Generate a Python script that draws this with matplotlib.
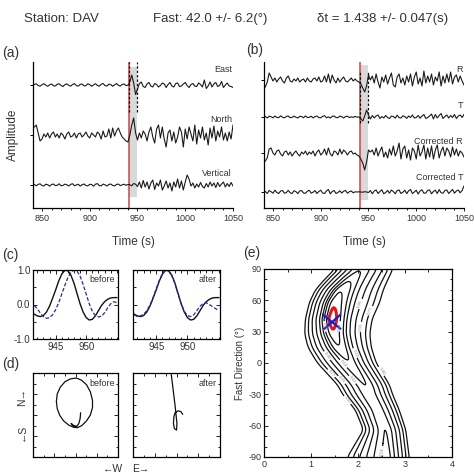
import numpy as np
import matplotlib
matplotlib.use('Agg')
import matplotlib.pyplot as plt
from matplotlib.ticker import MultipleLocator, FixedLocator, NullFormatter

plt.rcParams['font.family'] = ['Liberation Sans', 'DejaVu Sans']
plt.rcParams['axes.unicode_minus'] = False

# ---------------- data ----------------
station = "DAV"
fast_text = "Fast: 42.0 +/- 6.2(\u00b0)"
dt_text = "\u03b4t = 1.438 +/- 0.047(s)"

t_start, t_step = 842, 2
east = [0.5, 1.2, -0.5, -1.2, 0.3, 1.3, -0.2, -1.3, 0.2, 1.0,
        -0.8, -1.0, 0.8, 1.2, -0.5, -1.5, 0.4, 1.1, -0.3, -1.2,
        0.5, 1.4, -0.6, -1.1, 0.6, 1.0, -0.9, -0.7, 1.2, 0.4,
        -1.3, 0.1, 1.3, -0.4, -1.2, 0.8, 1.5, -0.6, -1.0, 0.9,
        0.4, -1.3, 0.2, 1.4, -0.3, -1.1, 0.6, 1.0, -0.6, -0.2,
        3.0, 10.0, 2.0, -9.5, -4.0,
        1.5, 3.0, -1.5, -2.5, 1.0, 2.5, -1.0, -2.0, 1.5, 0.5,
        -2.0, -0.5, 2.0, 1.0, -2.5, 0.5, 2.5, -1.0, -2.0, 1.5,
        2.0, -1.5, -1.0, 1.0, 2.5, -0.5, -2.5, 0.5, 1.5, -1.0,
        -1.5, 2.0, 0.5, -2.0, 5.0, -3.5, -1.0, 3.0, -2.0, 1.0,
        2.5, -1.5, -0.5, 3.5, -2.5, 0.0, 2.0, -1.0, -1.5, -2.5]
north = [8, 10, 2, -6, -4, 1, -2, 2, -3, 1,
         3, -2, 1, -3, 2, 0, -4, 1, 3, -2,
         -1, 2, -3, 1, 2, -2, 0, 3, -1, -3,
         2, 0, -2, 3, 1, -4, 4, -2, -1, 6,
         -3, 7, -1, 4, 7, 2, -2, -4, -6, -7,
         0, 10, 17, 2, -5,
         2, -3, 4, 1, -6, 3, 8, -2, -8, 6,
         10, -3, 8, -4, -12, 2, 5, -6, 3, -8,
         -2, 8, 3, -12, 6, -4, 8, 1, -6, 10,
         -9, 5, -3, 8, -5, 2, -10, 7, -3, 9,
         -6, 4, -2, 8, -5, 2, -6, 3, -4, 10]
vertical = [0.5, -0.8, 0.6, 1.2, -0.5, -1.0, 0.8, 0.3, -1.2, 0.4,
            1.0, -0.6, -0.3, 1.2, -0.8, -0.4, 0.9, 0.2, -1.0, 0.6,
            1.3, -0.7, 0.0, 0.8, -1.1, 0.3, 1.0, -0.5, -0.9, 0.7,
            0.5, -1.2, 0.8, 1.4, -0.6, -0.8, 0.9, 0.2, -1.0, 0.5,
            1.0, -0.4, -1.0, 0.6, 0.9, -0.7, 0.2, 0.8, -0.3, 0.5,
            0.3, -0.8, 1.5, 0.8, -1.5,
            3.0, -3.0, 4.5, -2.0, 3.0, -4.0, 2.0, 5.0, -4.5, 2.0,
            -1.0, 5.0, -5.0, -1.0, 4.0, -3.0, 2.0, -6.0, 3.0, -2.0,
            6.0, -3.0, 4.0, -5.0, 3.0, 10.0, 6.0, -1.0, 2.0, -3.0,
            1.0, -2.0, 2.5, -1.5, -3.0, 1.5, -2.0, 3.0, -1.0, 2.0,
            -2.5, 2.5, -1.5, 1.0, 3.0, -2.0, 1.5, -1.5, 2.5, -1.0]
radial = [-7, -2, 7, 3, -1, 2, -2, 1, 3, -1,
          -3, 2, 4, -1, -2, 1, -1, 2, -2, 0,
          1, -2, 2, -1, -2, 1, 2, -1, 3, -2,
          -1, 4, -2, 6, -3, 5, 0, -3, 2, -2,
          1, 3, -1, -2, 0, 2, -1, 1, -1, -2,
          -4, -8, -12, -6, 5,
          0, 4, -3, 6, -2, -8, 3, -2, 5, -4,
          2, 7, -5, -7, 3, 6, -3, 2, -5, 4,
          -2, 6, -6, 3, 8, -4, 2, -6, 9, -3,
          4, -2, 6, -5, 3, -1, 8, -6, 4, -3,
          6, -2, 8, -4, 3, 5, -2, 4, -1, -5]
transverse = [0.5, -1.0, 0.8, 0.3, -0.8, 1.0, -0.5, -0.6, 1.2, -0.3,
              -0.9, 0.6, 1.0, -0.7, -0.4, 0.9, -0.2, -1.0, 0.7, 0.4,
              -0.8, 1.1, -0.5, -0.3, 0.8, -0.9, 0.4, 1.0, -0.6, -0.8,
              0.7, 1.3, -0.8, 0.2, -1.1, 0.6, 1.0, -0.5, -0.7, 0.9,
              0.3, -1.0, 0.5, 0.8, -0.6, 0.2, -0.4, 0.6, -0.2, 0.1,
              -2.0, -4.0, 1.0, 7.0, 2.0,
              -2.0, 1.5, -1.0, 1.0, 2.0, -1.5, 0.5, -1.0, 1.5, -0.5,
              -1.5, 1.0, 0.5, -1.2, 1.8, -0.6, -1.0, 1.2, 0.4, -1.4,
              1.0, -0.5, 2.0, -1.0, -0.5, 1.5, -1.2, 0.8, 2.5, -1.5,
              -0.5, 1.0, 3.0, -2.0, 2.5, -1.0, 1.5, 3.5, -1.5, 0.5,
              2.0, -1.0, 1.5, -0.5, 2.5, -1.5, 1.0, 2.0, -0.5, 2.5]
corr_radial = [-8, -5, 4, 5, 0, -2, 2, 3, -1, -3,
               1, 2, -2, 1, -3, 0, 2, -1, -3, 1,
               -1, 2, -2, 1, -1, 2, -3, 1, 3, -2,
               0, 4, -2, 5, -1, -3, 2, 1, -2, 4,
               -1, 3, 1, -2, 1, 2, -1, 0, -2, -3,
               -6, -10, -17, -9, 3,
               1, 3, -2, 5, -3, 2, 6, -4, 1, -5,
               4, -2, 7, -3, 2, 10, -6, 4, 7, -5,
               3, -7, 5, 2, -6, 8, -3, 1, 8, -6,
               5, -4, 7, -6, 3, 8, -5, 2, 6, -3,
               5, 2, -4, 6, -2, 4, -3, 2, 0, -4]
corr_transverse = [0.5, -1.5, 1.5, 0.3, -1.2, 1.8, -0.5, -1.5, 1.0, 1.5,
                   -1.2, -0.6, 1.6, -0.8, -1.5, 1.2, 0.4, -1.6, 1.0, 1.5,
                   -1.0, -1.3, 0.8, 1.7, -1.2, -0.2, 1.4, -1.5, 0.5, 1.8,
                   -1.0, -1.5, 1.2, 2.5, -1.8, 0.5, 1.5, -1.5, -0.5, 1.2,
                   -1.0, 0.8, 1.5, -1.2, 0.3, 1.0, -0.8, 0.2, 0.0, 0.2,
                   0.0, -0.2, 0.3, 0.0, -0.5,
                   1.5, -1.8, 1.0, 2.0, -1.5, 0.5, 2.2, -1.8, -0.5, 1.6,
                   -1.2, 2.0, 0.5, -1.8, 1.5, 2.0, -1.5, -0.3, 1.8, -1.6,
                   1.2, 2.5, -1.5, 0.0, 1.8, -2.0, 1.0, 2.2, -1.2, -1.0,
                   1.6, 2.0, -1.8, 0.6, 1.8, -1.5, 2.4, -0.8, -1.2, 1.5,
                   2.0, -1.5, 0.5, 2.6, -1.2, 1.0, 2.0, -0.8, 1.5, 6.0]

labels_a = ["East", "North", "Vertical"]
labels_b = ["R", "T", "Corrected R", "Corrected T"]
s_onset, window_end = 941.3, 950.0

# panel c : normalized waveforms in the window
tc_start, tc_step = 941.5, 0.5
fast_wave = [-0.28, -0.33, -0.35, -0.32, -0.22, -0.05, 0.18, 0.42, 0.68, 0.88,
             0.99, 0.98, 0.85, 0.62, 0.32, 0.02, -0.22, -0.38, -0.45, -0.43,
             -0.33, -0.18, -0.03, 0.08, 0.15, 0.19, 0.20, 0.20]
slow_before = [-0.03, -0.12, -0.25, -0.35, -0.40, -0.38, -0.30, -0.15, 0.05, 0.30,
               0.55, 0.78, 0.93, 1.00, 0.97, 0.82, 0.58, 0.30, 0.02, -0.20,
               -0.32, -0.36, -0.34, -0.24, -0.10, 0.02, 0.08, 0.06]
slow_after = [-0.30, -0.35, -0.33, -0.28, -0.18, -0.02, 0.20, 0.45, 0.70, 0.90,
              1.00, 0.97, 0.83, 0.60, 0.30, 0.02, -0.20, -0.32, -0.35, -0.30,
              -0.18, -0.05, 0.03, 0.05, 0.00, -0.06, -0.12, -0.17]

# panel d : particle motion
pm_before_e = [0.12, 0.11, 0.08, 0.03, -0.08, -0.10, -0.02, 0.05, 0.15, 0.26, 0.35, 0.40, 0.40,
               0.35, 0.26, 0.14, 0.02, -0.12, -0.25, -0.36, -0.43, -0.45, -0.43, -0.37,
               -0.28, -0.16, -0.05, 0.03]
pm_before_n = [0.05, -0.08, -0.20, -0.27, -0.24, -0.20, -0.28, -0.30, -0.25, -0.14, 0.00, 0.18, 0.35,
               0.55, 0.72, 0.83, 0.88, 0.86, 0.79, 0.66, 0.50, 0.32, 0.15, -0.01,
               -0.14, -0.24, -0.29, -0.30]
pm_after_e = [0.14, 0.10, 0.04, -0.03, -0.06, -0.07, -0.05, 0.00, 0.01, -0.01, -0.03, -0.13]
pm_after_n = [0.02, 0.08, 0.10, 0.06, -0.04, -0.20, -0.32, -0.36, -0.20, 0.00, 0.20, 1.05]

# panel e : misfit surface described along its valley
valley_phi = [-90, -64, -45, -30, -21, 0, 15, 28, 42, 58, 70, 80, 90]
valley_floor = [2.62, 2.58, 2.42, 2.24, 2.16, 1.82, 1.60, 1.48, 1.44, 1.50, 1.64, 1.84, 2.06]
valley_wleft = [0.90, 0.50, 0.52, 0.62, 0.64, 0.72, 0.68, 0.62, 0.56, 0.54, 0.56, 0.58, 0.60]
valley_wright = [0.50, 0.47, 0.50, 0.54, 0.55, 0.60, 0.70, 0.78, 0.86, 0.97, 0.92, 0.84, 0.74]
valley_depth = [0.12, 0.14, 0.165, 0.16, 0.14, 0.10, 0.05, 0.022, 0.0, 0.022, 0.05, 0.10, 0.15]
misfit_levels = [0.045, 0.09, 0.14, 0.22, 0.36, 0.55, 0.77, 1.0]
conf_level = [0.015]
cross_dt_a, cross_phi_a = [1.26, 1.62], [46, 33]
cross_dt_b, cross_phi_b = [1.29, 1.62], [33, 46]

# ---------------- figure ----------------
W = H = 474
fig = plt.figure(figsize=(4.74, 4.74), dpi=100)
TXT = '#333333'


def ax_at(l, t, w, h):
    return fig.add_axes([l / W, 1 - (t + h) / H, w / W, h / H])


def ftext(x, y, s, **kw):
    kw.setdefault('color', TXT)
    fig.text(x / W, 1 - y / H, s, **kw)


ftext(24, 19, "Station: " + station, fontsize=9.5, va='center')
ftext(153, 19, fast_text, fontsize=9.5, va='center')
ftext(317, 19, dt_text, fontsize=9.5, va='center')

t = t_start + t_step * np.arange(len(east))


def trace_panel(ax, traces, offsets, labels, label_pos, band, dash):
    ax.set_xlim(840.6, 1050)
    ax.set_ylim(0, 146)
    ax.axvspan(s_onset + 0.2, window_end, ymin=band[0] / 146, ymax=band[1] / 146,
               color='#d9d9d9', lw=0, zorder=0)
    ax.axvline(s_onset, color='#c94646', lw=1.1, zorder=1)
    for x in (s_onset, window_end):
        ax.plot([x, x], dash, color='#111111', lw=0.9, ls=(0, (2, 1.5)), zorder=3)
    for off, tr in zip(offsets, traces):
        ax.plot(t, off + np.asarray(tr), color='#1a1a1a', lw=0.8, zorder=2)
    for lab, yy in zip(labels, label_pos):
        ax.text(1049, yy, lab, ha='right', va='center', fontsize=6.5, color=TXT)
    for s in ('top', 'right'):
        ax.spines[s].set_visible(False)
    for s in ('left', 'bottom'):
        ax.spines[s].set_linewidth(0.9)
    ax.xaxis.set_major_locator(FixedLocator([850, 900, 950, 1000, 1050]))
    ax.xaxis.set_minor_locator(MultipleLocator(10))
    ax.yaxis.set_major_locator(FixedLocator(offsets))
    ax.yaxis.set_major_formatter(NullFormatter())
    ax.tick_params(axis='x', labelsize=6.5, colors='#222222', labelcolor=TXT, length=2.5, width=0.7, pad=2)
    ax.tick_params(axis='x', which='minor', length=1.5, width=0.6)
    ax.tick_params(axis='y', length=2, width=0.7)
    ax.set_xlabel("Time (s)", fontsize=8.5, color=TXT, labelpad=9)


ax_a = ax_at(33, 62, 200, 146)
trace_panel(ax_a, [east, north, vertical], [123, 73, 23], labels_a,
            [138, 88, 35], (11, 141), (96, 146))
ftext(13, 135, "Amplitude", fontsize=8.5, rotation=90, ha='center', va='center')
ftext(2, 53, "(a)", fontsize=10, va='center')

ax_b = ax_at(264, 62, 200, 146)
trace_panel(ax_b, [radial, transverse, corr_radial, corr_transverse], [128, 91, 55, 16],
            labels_b, [139, 102, 66, 30], (8, 143), (85, 136))
ftext(246, 50, "(b)", fontsize=10, va='center')

# panel c
tc = tc_start + tc_step * np.arange(len(fast_wave))


def small_ticks(ax):
    ax.tick_params(which='both', direction='in', top=True, right=True, width=0.6,
                   labelsize=7, labelcolor=TXT, pad=2)
    ax.tick_params(which='major', length=3)
    ax.tick_params(which='minor', length=1.8)
    for s in ax.spines.values():
        s.set_linewidth(0.9)


for i, (slow, name) in enumerate([(slow_before, "before"), (slow_after, "after")]):
    ax = ax_at(33 if i == 0 else 133, 270, 85 if i == 0 else 87, 69)
    ax.plot(tc, fast_wave, color='#111111', lw=1.0)
    ax.plot(tc, slow, color='#2b2b9a', lw=0.9, ls=(0, (3, 1.5)))
    ax.set_xlim(941.3, 955.2)
    ax.set_ylim(-1.0, 1.0)
    ax.xaxis.set_major_locator(FixedLocator([945, 950]))
    ax.xaxis.set_minor_locator(MultipleLocator(1))
    ax.yaxis.set_major_locator(FixedLocator([-1.0, 0.0, 1.0]))
    ax.yaxis.set_minor_locator(MultipleLocator(0.5))
    if i == 0:
        ax.set_yticklabels(["-1.0", "0.0", "1.0"])
    else:
        ax.set_yticklabels([])
    small_ticks(ax)
    ax.text(0.96, 0.93, name, transform=ax.transAxes, ha='right', va='top',
            fontsize=6.5, color=TXT)
ftext(2, 255, "(c)", fontsize=10, va='center')

# panel d
for i, (pe, pn, name) in enumerate([(pm_before_e, pm_before_n, "before"),
                                    (pm_after_e, pm_after_n, "after")]):
    ax = ax_at(33 if i == 0 else 133, 373, 85 if i == 0 else 87, 84)
    ax.plot(pe, pn, color='#111111', lw=0.9)
    ax.set_xlim(-1, 1)
    ax.set_ylim(-1, 1)
    ax.xaxis.set_major_locator(MultipleLocator(0.5))
    ax.xaxis.set_minor_locator(MultipleLocator(0.25))
    ax.yaxis.set_major_locator(MultipleLocator(0.5))
    ax.yaxis.set_minor_locator(MultipleLocator(0.25))
    ax.set_xticklabels([])
    ax.set_yticklabels([])
    small_ticks(ax)
    ax.text(0.96, 0.93, name, transform=ax.transAxes, ha='right', va='top',
            fontsize=6.5, color=TXT)
ftext(2, 364, "(d)", fontsize=10, va='center')
ftext(113, 469, "\u2190W", fontsize=7.5, ha='center', va='center')
ftext(141, 469, "E\u2192", fontsize=7.5, ha='center', va='center')
ftext(22, 397, "N\u2192", fontsize=7.5, rotation=90, ha='center', va='center')
ftext(22, 432, "\u2190S", fontsize=7.5, rotation=90, ha='center', va='center')

# panel e
ax_e = ax_at(264, 269, 188, 188)
phi_f = np.linspace(-90, 90, 361)
dt_f = np.linspace(0, 4, 401)


def smooth(v, n=17):
    p = n // 2
    return np.convolve(np.pad(v, p, mode='edge'), np.ones(n) / n, mode='valid')


cf = smooth(np.interp(phi_f, valley_phi, valley_floor))
wl = smooth(np.interp(phi_f, valley_phi, valley_wleft))
wr = smooth(np.interp(phi_f, valley_phi, valley_wright))
hf = smooth(np.interp(phi_f, valley_phi, valley_depth), 11)
DT, PH = np.meshgrid(dt_f, phi_f)
WW = np.where(DT < cf[:, None], wl[:, None], wr[:, None])
F = ((DT - cf[:, None]) / WW) ** 2 + hf[:, None]
cs = ax_e.contour(DT, PH, F, levels=misfit_levels, colors='#111111', linewidths=0.9)
ax_e.clabel(cs, fontsize=3.2, colors='#8a8a8a', fmt=lambda v: f"{v:.2f}", inline=True,
            inline_spacing=1)
ax_e.contour(DT, PH, F, levels=conf_level, colors='#e01818', linewidths=2.2)
ax_e.plot(cross_dt_a, cross_phi_a, color='#1c1cc8', lw=1.6)
ax_e.plot(cross_dt_b, cross_phi_b, color='#1c1cc8', lw=1.6)
ax_e.set_xlim(0, 4)
ax_e.set_ylim(-90, 90)
ax_e.xaxis.set_major_locator(MultipleLocator(1))
ax_e.xaxis.set_minor_locator(MultipleLocator(0.5))
ax_e.yaxis.set_major_locator(MultipleLocator(30))
ax_e.yaxis.set_minor_locator(MultipleLocator(10))
small_ticks(ax_e)
ax_e.tick_params(labelsize=6.5)
ax_e.set_ylabel("Fast Direction (\u00b0)", fontsize=7, color=TXT, labelpad=2)
ftext(243, 253, "(e)", fontsize=10, va='center')

fig.savefig("out.png", dpi=100)
